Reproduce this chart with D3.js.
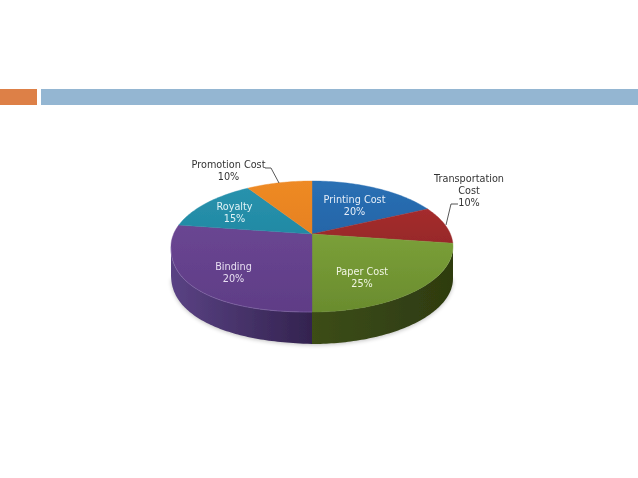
<!DOCTYPE html>
<html>
<head>
<meta charset="utf-8">
<script src="https://cdn.jsdelivr.net/npm/d3@7"></script>
<style>
  html, body { margin: 0; padding: 0; background: #fff; }
  svg { display: block; }
  text { font-family: "DejaVu Sans", sans-serif; font-size: 9.7px; text-anchor: middle; }
</style>
</head>
<body>
<svg id="canvas"></svg>
<script>
let width = 638;
let height = 478;

// what the labels say
const categories = ['Printing Cost', 'Transportation Cost', 'Paper Cost', 'Binding', 'Royalty', 'Promotion Cost'];
const percents = [20, 10, 25, 20, 15, 10];
// the slices in the picture are not drawn to the labels, so these are read off the slice edges
const drawnShare = [15.3, 8.9, 25.8, 30.3, 12.2, 7.5];

const topColors = [
    ['#2a70b4', '#1c5596'],
    ['#b03030', '#7c1f22'],
    ['#86ad40', '#6a8c2e'],
    ['#6f4a98', '#5f3d86'],
    ['#2a93ae', '#147c96'],
    ['#ee8a25', '#dc7418'],
];
const wallColors = [
    ['#1d3f70', '#1d3f70'],
    ['#5c1719', '#5c1719'],
    ['#2e3b10', '#3c4d18'],
    ['#33234f', '#5a4284'],
    ['#0e5566', '#0e5566'],
    ['#8f4c10', '#8f4c10'],
];
const labelLayout = [
    { x: 354.5, y: 203, lines: ['Printing Cost', '20%'], fill: '#e6eef8' },
    { x: 469, y: 182, lines: ['Transportation', 'Cost', '10%'], fill: '#333' },
    { x: 362, y: 275, lines: ['Paper Cost', '25%'], fill: '#f2f6e4' },
    { x: 233.5, y: 270, lines: ['Binding', '20%'], fill: '#e8dff2' },
    { x: 234.5, y: 210, lines: ['Royalty', '15%'], fill: '#dff2f6' },
    { x: 228.5, y: 168, lines: ['Promotion Cost', '10%'], fill: '#333' },
];

let cx = 312;
let cy = 246.5;
let rx = 141;
let ry = 65.5;
let apexY = 234;
let depth = 32;

let canvas = d3.select('#canvas').attr('width', width).attr('height', height);
let defs = canvas.append('defs');

defs.append('filter').attr('id', 'soft')
    .append('feGaussianBlur').attr('stdDeviation', 0.35);
let shadow = defs.append('filter').attr('id', 'shadow')
    .attr('x', '-10%').attr('y', '-10%').attr('width', '120%').attr('height', '130%');
shadow.append('feGaussianBlur').attr('stdDeviation', 2);

// header bars
canvas.append('rect').attr('x', 0).attr('y', 89).attr('width', 37).attr('height', 16).attr('fill', '#dd8047');
canvas.append('rect').attr('x', 41).attr('y', 89).attr('width', 597).attr('height', 16).attr('fill', '#94b6d2');

let pie = d3.pie().sort(null).value((d) => d);
let slices = pie(drawnShare);

let xScale = d3.scaleLinear().domain([-1, 1]).range([cx - rx, cx + rx]);
let yScale = d3.scaleLinear().domain([-1, 1]).range([cy + ry, cy - ry]);

// the lower left of the reference disc bulges past a plain ellipse, and its wall gets thinner
let rim = (a, drop = 0) => {
    let s = Math.sin(a);
    let c = Math.cos(a);
    if (a > Math.PI && a < (3 * Math.PI) / 2) {
        let sx = Math.pow(-s, 2 / 2.3);
        let sy = Math.pow(-c, 2 / 2.3);
        return [xScale(-sx), yScale(-sy) + drop * (1 - 0.15 * sx)];
    }
    return [xScale(s), yScale(c) + drop];
};

let arcPoints = (a0, a1, drop = 0) => {
    let n = Math.max(2, Math.ceil((a1 - a0) / 0.02));
    return d3.range(n + 1).map((i) => rim(a0 + ((a1 - a0) * i) / n, drop));
};

let line = d3.line();
let chart = canvas.append('g').attr('filter', 'url(#soft)');

// soft shadow under the front wall
chart.append('path')
    .attr('d', line(arcPoints(Math.PI / 2, (3 * Math.PI) / 2, depth + 1)) + 'Z')
    .attr('fill', '#000')
    .attr('opacity', 0.25)
    .attr('filter', 'url(#shadow)');

// front wall, only the part between the right and left extremes shows
slices.forEach((s, i) => {
    let a0 = Math.max(s.startAngle, Math.PI / 2);
    let a1 = Math.min(s.endAngle, (3 * Math.PI) / 2);
    if (a1 <= a0) return;

    let id = 'wall' + i;
    let grad = defs.append('linearGradient').attr('id', id)
        .attr('gradientUnits', 'userSpaceOnUse')
        .attr('x1', rim(a0)[0]).attr('x2', rim(a1)[0]).attr('y1', 0).attr('y2', 0);
    grad.append('stop').attr('offset', 0).attr('stop-color', wallColors[i][0]);
    grad.append('stop').attr('offset', 1).attr('stop-color', wallColors[i][1]);

    let pts = arcPoints(a0, a1).concat(arcPoints(a0, a1, depth).reverse());
    chart.append('path').attr('d', line(pts) + 'Z').attr('fill', `url(#${id})`);
});

// top faces
slices.forEach((s, i) => {
    let id = 'top' + i;
    let grad = defs.append('linearGradient').attr('id', id)
        .attr('gradientUnits', 'userSpaceOnUse')
        .attr('x1', 0).attr('x2', 0).attr('y1', cy - ry).attr('y2', cy + ry);
    grad.append('stop').attr('offset', 0).attr('stop-color', topColors[i][0]);
    grad.append('stop').attr('offset', 1).attr('stop-color', topColors[i][1]);

    let pts = [[cx, apexY]].concat(arcPoints(s.startAngle, s.endAngle));
    chart.append('path')
        .attr('class', 'slice')
        .attr('d', line(pts) + 'Z')
        .attr('fill', `url(#${id})`)
        .attr('stroke', `url(#${id})`)
        .attr('stroke-width', 0.4);
});

// thin light edge where the purple face meets its wall
chart.append('path')
    .attr('d', line(arcPoints(slices[3].startAngle, (3 * Math.PI) / 2)))
    .attr('fill', 'none').attr('stroke', '#8d74b2').attr('stroke-width', 0.5);

// leader lines
chart.append('path').attr('d', line([[265, 168], [271, 168], [279, 183]]))
    .attr('fill', 'none').attr('stroke', '#444').attr('stroke-width', 0.9);
chart.append('path').attr('d', line([[458, 204], [451, 204], [446, 225]]))
    .attr('fill', 'none').attr('stroke', '#444').attr('stroke-width', 0.9);

// labels
labelLayout.forEach((l, i) => {
    let t = chart.append('text').attr('fill', l.fill).attr('data-category', categories[i]).attr('data-percent', percents[i]);
    l.lines.forEach((str, j) => {
        t.append('tspan').attr('x', l.x).attr('y', l.y + j * 12).text(str);
    });
});
</script>
</body>
</html>
